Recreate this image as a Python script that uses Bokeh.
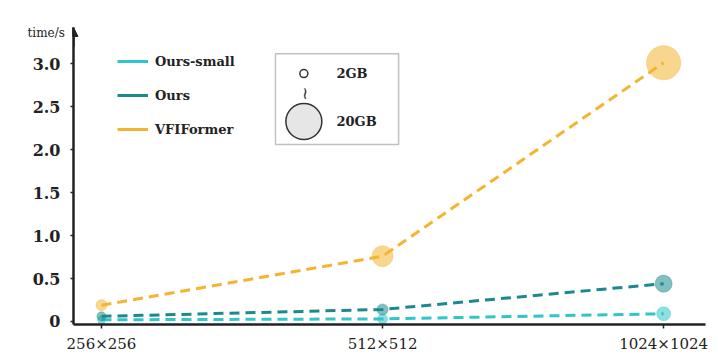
from bokeh.plotting import figure
from bokeh.models import (Range1d, FixedTicker, Legend, LegendItem, Arrow, NormalHead,
                          BoxAnnotation, Title)
from bokeh.core.properties import value
from bokeh.embed import file_html
from bokeh.resources import INLINE

# ---------------- data ----------------
resolutions = ["256×256", "512×512", "1024×1024"]
x_pos = [0, 1, 2]
y_ticks = [0, 0.5, 1.0, 1.5, 2.0, 2.5, 3.0]
y_labels = ["0", "0.5", "1.0", "1.5", "2.0", "2.5", "3.0"]

series_names = ["Ours-small", "Ours", "VFIFormer"]
ours_small_time = [0.02, 0.03, 0.09]
ours_time = [0.06, 0.14, 0.44]
vfiformer_time = [0.19, 0.76, 3.01]

# memory (GB), encoded by circle size
ours_small_mem = [2.0, 2.8, 4.7]
ours_mem = [2.4, 3.3, 6.4]
vfiformer_mem = [3.3, 8.8, 18.5]

mem_legend = [2, 20]
mem_legend_labels = ["2GB", "20GB"]

colors = ["#2EC6C8", "#1B8A8C", "#F4B430"]
FONT = "DejaVu Serif"
AX = "#222222"


def mem_to_size(m):
    return 8.0 * (m / 2.0) ** 0.653


p = figure(width=710, height=355,
           x_range=Range1d(-0.0996, 2.149), y_range=Range1d(-0.035, 3.42),
           output_backend="svg", toolbar_location=None,
           min_border_left=73, min_border_right=5, min_border_top=27, min_border_bottom=31)
p.outline_line_color = None
p.xgrid.visible = False
p.ygrid.visible = False

# axes
p.xaxis.ticker = FixedTicker(ticks=x_pos)
p.xaxis.major_label_overrides = {x: r for x, r in zip(x_pos, resolutions)}
p.yaxis.ticker = FixedTicker(ticks=y_ticks)
p.yaxis.major_label_overrides = {t: l for t, l in zip(y_ticks, y_labels)}
for ax in (p.xaxis, p.yaxis):
    ax.axis_line_width = 2.5
    ax.axis_line_color = AX
    ax.major_tick_line_color = AX
    ax.major_tick_line_width = 1.5
    ax.major_tick_in = 0
    ax.minor_tick_line_color = None
    ax.major_label_text_font = FONT
    ax.major_label_text_color = "#222222"
p.xaxis.major_tick_out = 4
p.xaxis.major_label_standoff = 6
p.xaxis.major_label_text_font_size = "15px"
p.yaxis.major_tick_out = 3
p.yaxis.major_label_standoff = 10
p.yaxis.major_label_text_font_size = "16px"
p.yaxis.major_label_text_font_style = "bold"

p.add_layout(Arrow(end=NormalHead(size=9, fill_color=AX, line_color=AX, line_width=1),
                   x_start=-0.0996, y_start=3.2, x_end=-0.0996, y_end=3.42,
                   line_width=2.5, line_color=AX))
p.add_layout(Title(text="time/s", align="left", offset=-46, standoff=-25,
                   vertical_align="bottom",
                   text_font=FONT, text_font_size="12px", text_font_style="normal",
                   text_color="#222222"), "above")

# series
times = [ours_small_time, ours_time, vfiformer_time]
mems = [ours_small_mem, ours_mem, vfiformer_mem]
legend_items = []
for name, t, m, c in zip(series_names, times, mems, colors):
    p.scatter(x=x_pos, y=t, size=[mem_to_size(v) for v in m], fill_color=c, fill_alpha=0.55,
              line_color=c, line_alpha=0.35)
    p.line(x=x_pos, y=t, line_color=c, line_width=3, line_dash="10 6")
    # one-point solid line: draws nothing on the plot, gives a solid legend swatch
    proxy = p.line(x=x_pos[:1], y=t[:1], line_color=c, line_width=3)
    legend_items.append(LegendItem(label=name, renderers=[proxy]))

legend = Legend(items=legend_items, location=(44, 185), orientation="vertical",
                glyph_width=31, glyph_height=20, label_height=20, spacing=14,
                padding=0, margin=0, label_standoff=7,
                border_line_alpha=0, background_fill_alpha=0,
                label_text_font=FONT, label_text_font_size="13px",
                label_text_font_style="bold", label_text_color="#222222")
p.add_layout(legend)

# memory size legend box
p.add_layout(BoxAnnotation(left=0.619, right=1.057, top=3.116, bottom=2.058,
                           fill_alpha=0, line_color="#333333", line_width=1.5))
mem_x = 0.72
mem_y = [2.884, 2.326]
p.scatter(x=[mem_x, mem_x], y=mem_y, size=[mem_to_size(v) for v in mem_legend],
          fill_color=["#FFFFFF", "#E6E6E6"], line_color="#333333", line_width=1.5)
p.text(x=[0.836, 0.836], y=mem_y, text=mem_legend_labels, text_baseline="middle",
       text_font=value(FONT), text_font_size="13px", text_font_style="bold", text_color="#222222")
p.text(x=[mem_x], y=[2.651], text=["~"], text_align="center", text_baseline="middle", angle=1.5708,
       text_font=value(FONT), text_font_size="17px", text_color="#333333")

open("out.html", "w").write(file_html(p, INLINE))
